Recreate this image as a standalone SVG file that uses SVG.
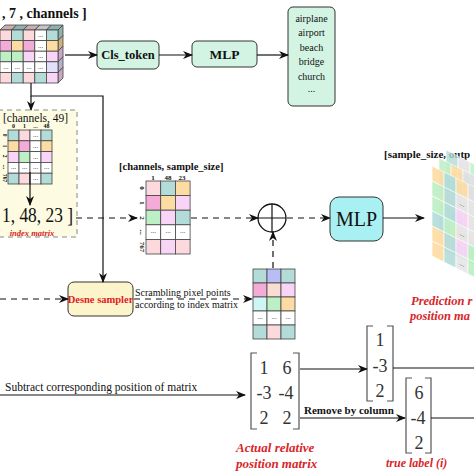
<svg xmlns="http://www.w3.org/2000/svg" width="474" height="474" viewBox="0 0 474 474">
<style>
.t{font-family:"Liberation Serif","Times New Roman",serif;fill:#111}
.b{font-weight:bold}
.r{fill:#d8262a;font-style:italic;font-weight:bold}
.c{stroke:#444;stroke-width:0.8}
.d{font-family:"Liberation Serif",serif;font-size:7px;fill:#333;text-anchor:middle}
.ln{stroke:#111;stroke-width:1.2;fill:none}
.da{stroke-dasharray:6,5}
.br{stroke:#555;stroke-width:1.2;fill:none}
.num{font-family:"Liberation Serif",serif;font-size:18px;fill:#333;text-anchor:middle}
.box{stroke:#333;stroke-width:1}
.pc{stroke:#fff;stroke-width:0.6}
</style>
<defs>
<marker id="ah" markerWidth="10" markerHeight="8" refX="9" refY="4" orient="auto" markerUnits="userSpaceOnUse">
<path d="M0,0 L10,4 L0,8 L3,4 z" fill="#111"/>
</marker>
</defs>

<!-- top-left cube -->
<g id="input-cube">
<text class="t b" x="2" y="18" font-size="14">, 7 , channels ]</text>
<polygon class="c" points="0,30 11.6,30 16.6,25 5,25" fill="#c9aeb1"/>
<polygon class="c" points="11.6,30 23.2,30 28.2,25 16.6,25" fill="#8fb0ad"/>
<polygon class="c" points="23.2,30 34.8,30 39.8,25 28.2,25" fill="#c9aeb1"/>
<polygon class="c" points="34.8,30 46.4,30 51.4,25 39.8,25" fill="#c4c4c4"/>
<polygon class="c" points="46.4,30 58,30 63,25 51.4,25" fill="#8fb0ad"/>
<polygon class="c" points="58,30 63,25 63,35.6 58,40.6" fill="#8fb0ad"/>
<polygon class="c" points="58,40.6 63,35.6 63,46.2 58,51.2" fill="#cdb07f"/>
<polygon class="c" points="58,51.2 63,46.2 63,56.8 58,61.8" fill="#c8a8c6"/>
<polygon class="c" points="58,61.8 63,56.8 63,67.4 58,72.4" fill="#b5b3cc"/>
<polygon class="c" points="58,72.4 63,67.4 63,78 58,83" fill="#c8a8c6"/>
<rect class="c" x="0" y="30" width="11.6" height="10.6" fill="#fbd9dc"/>
<rect class="c" x="11.6" y="30" width="11.6" height="10.6" fill="#b3dcd9"/>
<rect class="c" x="23.2" y="30" width="11.6" height="10.6" fill="#fbd9dc"/>
<rect class="c" x="34.8" y="30" width="11.6" height="10.6" fill="#fff"/>
<rect class="c" x="46.4" y="30" width="11.6" height="10.6" fill="#b3dcd9"/>
<rect class="c" x="0" y="40.6" width="11.6" height="10.6" fill="#f4abd8"/>
<rect class="c" x="11.6" y="40.6" width="11.6" height="10.6" fill="#fddca4"/>
<rect class="c" x="23.2" y="40.6" width="11.6" height="10.6" fill="#f4abd8"/>
<rect class="c" x="34.8" y="40.6" width="11.6" height="10.6" fill="#fff"/>
<rect class="c" x="46.4" y="40.6" width="11.6" height="10.6" fill="#fddca4"/>
<rect class="c" x="0" y="51.2" width="11.6" height="10.6" fill="#bdefc4"/>
<rect class="c" x="11.6" y="51.2" width="11.6" height="10.6" fill="#bdefc4"/>
<rect class="c" x="23.2" y="51.2" width="11.6" height="10.6" fill="#f8d4f6"/>
<rect class="c" x="34.8" y="51.2" width="11.6" height="10.6" fill="#fff"/>
<rect class="c" x="46.4" y="51.2" width="11.6" height="10.6" fill="#f8d4f6"/>
<rect class="c" x="0" y="61.8" width="11.6" height="10.6" fill="#fff"/>
<rect class="c" x="11.6" y="61.8" width="11.6" height="10.6" fill="#fff"/>
<rect class="c" x="23.2" y="61.8" width="11.6" height="10.6" fill="#fff"/>
<rect class="c" x="34.8" y="61.8" width="11.6" height="10.6" fill="#fff"/>
<rect class="c" x="46.4" y="61.8" width="11.6" height="10.6" fill="#e2e0fa"/>
<rect class="c" x="0" y="72.4" width="11.6" height="10.6" fill="#fbd9dc"/>
<rect class="c" x="11.6" y="72.4" width="11.6" height="10.6" fill="#b3dcd9"/>
<rect class="c" x="23.2" y="72.4" width="11.6" height="10.6" fill="#fbd9dc"/>
<rect class="c" x="34.8" y="72.4" width="11.6" height="10.6" fill="#b3dcd9"/>
<rect class="c" x="46.4" y="72.4" width="11.6" height="10.6" fill="#f8d4f6"/>
<text class="d" x="40.6" y="37">...</text>
<text class="d" x="40.6" y="47.6">...</text>
<text class="d" x="40.6" y="58.2">...</text>
<text class="d" x="5.8" y="68.8">...</text>
<text class="d" x="17.4" y="68.8">...</text>
<text class="d" x="29" y="68.8">...</text>
<text class="d" x="40.6" y="68.8">...</text>
</g>

<g id="cls-token">
<rect class="box" x="97" y="41" width="62" height="28" rx="5" fill="#d3f4e3"/>
<text class="t b" x="128" y="59" font-size="12.5" text-anchor="middle">Cls_token</text>
</g>

<g id="mlp-top">
<rect class="box" x="192" y="41" width="65" height="26" rx="5" fill="#d3f4e3"/>
<text class="t b" x="224.5" y="59" font-size="13.5" text-anchor="middle">MLP</text>
</g>

<g id="classes">
<rect class="box" x="288" y="7" width="47" height="99" rx="5" fill="#d3f4e3"/>
<g class="t" font-size="10" text-anchor="middle">
<text x="311.5" y="22">airplane</text>
<text x="311.5" y="36">airport</text>
<text x="311.5" y="51">beach</text>
<text x="311.5" y="65">bridge</text>
<text x="311.5" y="80">church</text>
<text x="311.5" y="92">...</text>
</g>
</g>

<g id="index-matrix">
<rect x="-2" y="110" width="79" height="127" fill="#fdfbe2" stroke="#888" stroke-width="1" stroke-dasharray="5,4"/>
<text class="t" x="3" y="122" font-size="11.5">[channels, 49]</text>
<g class="t b" font-size="6" text-anchor="middle">
<text x="13.5" y="128">0</text><text x="24.5" y="128">1</text><text x="35.5" y="128">...</text><text x="46.5" y="128">48</text>
</g>
<g class="t b" font-size="5.5" text-anchor="middle">
<text transform="translate(3,135) rotate(90)">0</text>
<text transform="translate(3,146) rotate(90)">1</text>
<text transform="translate(3,156) rotate(90)">2</text>
<text transform="translate(3,167) rotate(90)">...</text>
<text transform="translate(3,178) rotate(90)">767</text>
</g>
<rect class="c" x="8" y="130" width="11" height="10.8" fill="#b3dcd9"/>
<rect class="c" x="19" y="130" width="11" height="10.8" fill="#fbd9dc"/>
<rect class="c" x="30" y="130" width="11" height="10.8" fill="#fff"/>
<rect class="c" x="41" y="130" width="11" height="10.8" fill="#b3dcd9"/>
<rect class="c" x="8" y="140.8" width="11" height="10.8" fill="#fddca4"/>
<rect class="c" x="19" y="140.8" width="11" height="10.8" fill="#f4abd8"/>
<rect class="c" x="30" y="140.8" width="11" height="10.8" fill="#fff"/>
<rect class="c" x="41" y="140.8" width="11" height="10.8" fill="#fddca4"/>
<rect class="c" x="8" y="151.6" width="11" height="10.8" fill="#f8d4f6"/>
<rect class="c" x="19" y="151.6" width="11" height="10.8" fill="#bdefc4"/>
<rect class="c" x="30" y="151.6" width="11" height="10.8" fill="#fff"/>
<rect class="c" x="41" y="151.6" width="11" height="10.8" fill="#f8d4f6"/>
<rect class="c" x="8" y="162.4" width="11" height="10.8" fill="#fff"/>
<rect class="c" x="19" y="162.4" width="11" height="10.8" fill="#fff"/>
<rect class="c" x="30" y="162.4" width="11" height="10.8" fill="#fff"/>
<rect class="c" x="41" y="162.4" width="11" height="10.8" fill="#fff"/>
<rect class="c" x="8" y="173.2" width="11" height="10.8" fill="#b3dcd9"/>
<rect class="c" x="19" y="173.2" width="11" height="10.8" fill="#fbd9dc"/>
<rect class="c" x="30" y="173.2" width="11" height="10.8" fill="#fff"/>
<rect class="c" x="41" y="173.2" width="11" height="10.8" fill="#b3dcd9"/>
<text class="d" x="35.5" y="137">...</text>
<text class="d" x="35.5" y="148">...</text>
<text class="d" x="35.5" y="158.6">...</text>
<text class="d" x="13.5" y="169.4">...</text>
<text class="d" x="24.5" y="169.4">...</text>
<text class="d" x="35.5" y="169.4">...</text>
<text class="d" x="46.5" y="169.4">...</text>
<text class="d" x="35.5" y="180.2">...</text>
<text class="t" x="2" y="222" font-size="20" textLength="71" lengthAdjust="spacingAndGlyphs">1, 48, 23 ]</text>
<text class="t r" x="32" y="236" font-size="8.5" text-anchor="middle">index matrix</text>
</g>

<g id="sample-matrix">
<text class="t b" x="119" y="170" font-size="10.5">[channels, sample_size]</text>
<g class="t b" font-size="7" text-anchor="middle">
<text x="153" y="180">1</text><text x="168" y="180">48</text><text x="182" y="180">23</text>
</g>
<g class="t b" font-size="7" text-anchor="middle">
<text transform="translate(140,188) rotate(90)">0</text>
<text transform="translate(140,203) rotate(90)">1</text>
<text transform="translate(140,218) rotate(90)">2</text>
<text transform="translate(140,232) rotate(90)">...</text>
<text transform="translate(140,247) rotate(90)">767</text>
</g>
<rect class="c" x="146" y="181" width="14.7" height="14.6" fill="#fbd9dc"/>
<rect class="c" x="160.7" y="181" width="14.7" height="14.6" fill="#b3dcd9"/>
<rect class="c" x="175.4" y="181" width="14.7" height="14.6" fill="#fddca4"/>
<rect class="c" x="146" y="195.6" width="14.7" height="14.6" fill="#f4abd8"/>
<rect class="c" x="160.7" y="195.6" width="14.7" height="14.6" fill="#fddca4"/>
<rect class="c" x="175.4" y="195.6" width="14.7" height="14.6" fill="#f8d4f6"/>
<rect class="c" x="146" y="210.2" width="14.7" height="14.6" fill="#bdefc4"/>
<rect class="c" x="160.7" y="210.2" width="14.7" height="14.6" fill="#f8d4f6"/>
<rect class="c" x="175.4" y="210.2" width="14.7" height="14.6" fill="#b3dcd9"/>
<rect class="c" x="146" y="224.8" width="14.7" height="14.6" fill="#fff"/>
<rect class="c" x="160.7" y="224.8" width="14.7" height="14.6" fill="#fff"/>
<rect class="c" x="175.4" y="224.8" width="14.7" height="14.6" fill="#fff"/>
<rect class="c" x="146" y="239.4" width="14.7" height="14.6" fill="#fbd9dc"/>
<rect class="c" x="160.7" y="239.4" width="14.7" height="14.6" fill="#f8d4f6"/>
<rect class="c" x="175.4" y="239.4" width="14.7" height="14.6" fill="#fbd9dc"/>
<text class="d" x="153.3" y="233">...</text>
<text class="d" x="168" y="233">...</text>
<text class="d" x="182.7" y="233">...</text>
</g>

<g id="plus">
<circle cx="272" cy="218" r="14" fill="#fff" stroke="#111" stroke-width="1.3"/>
<path d="M258,218 H286 M272,204 V232" stroke="#111" stroke-width="1.2"/>
</g>

<g id="mlp-main">
<rect class="box" x="330" y="197" width="53" height="44" rx="9" fill="#a8f0f2"/>
<text class="t" x="356.5" y="226" font-size="20" text-anchor="middle">MLP</text>
</g>

<g id="prediction">
<text class="t b" x="384" y="158" font-size="11">[sample_size, outp</text>
<g transform="translate(446,150) matrix(1,0.5,0,1,0,0)" opacity="0.8">
<rect class="pc" x="0" y="0" width="12" height="15" fill="#b3dcd9"/><rect class="pc" x="12" y="0" width="12" height="15" fill="#e0e0e0"/><rect class="pc" x="24" y="0" width="12" height="15" fill="#bdefc4"/>
<rect class="pc" x="0" y="15" width="12" height="15" fill="#fddca4"/><rect class="pc" x="12" y="15" width="12" height="15" fill="#b3dcd9"/><rect class="pc" x="24" y="15" width="12" height="15" fill="#f8d4f6"/>
<rect class="pc" x="0" y="30" width="12" height="15" fill="#bdefc4"/><rect class="pc" x="12" y="30" width="12" height="15" fill="#fbd9dc"/><rect class="pc" x="24" y="30" width="12" height="15" fill="#b3dcd9"/>
<rect class="pc" x="0" y="45" width="12" height="15" fill="#b3dcd9"/><rect class="pc" x="12" y="45" width="12" height="15" fill="#e0e0e0"/><rect class="pc" x="24" y="45" width="12" height="15" fill="#fddca4"/>
<rect class="pc" x="0" y="60" width="12" height="15" fill="#f8d4f6"/><rect class="pc" x="12" y="60" width="12" height="15" fill="#b3dcd9"/><rect class="pc" x="24" y="60" width="12" height="15" fill="#bdefc4"/>
<rect class="pc" x="0" y="75" width="12" height="15" fill="#fddca4"/><rect class="pc" x="12" y="75" width="12" height="15" fill="#e0e0e0"/><rect class="pc" x="24" y="75" width="12" height="15" fill="#b3dcd9"/>
</g>
<g transform="translate(439,158) matrix(1,0.5,0,1,0,0)" opacity="0.85">
<rect class="pc" x="0" y="0" width="12" height="15" fill="#bdefc4"/><rect class="pc" x="12" y="0" width="12" height="15" fill="#fddca4"/><rect class="pc" x="24" y="0" width="12" height="15" fill="#e0e0e0"/><rect class="pc" x="36" y="0" width="12" height="15" fill="#bdefc4"/>
<rect class="pc" x="0" y="15" width="12" height="15" fill="#b3dcd9"/><rect class="pc" x="12" y="15" width="12" height="15" fill="#b3dcd9"/><rect class="pc" x="24" y="15" width="12" height="15" fill="#fbd9dc"/><rect class="pc" x="36" y="15" width="12" height="15" fill="#fddca4"/>
<rect class="pc" x="0" y="30" width="12" height="15" fill="#fddca4"/><rect class="pc" x="12" y="30" width="12" height="15" fill="#f8d4f6"/><rect class="pc" x="24" y="30" width="12" height="15" fill="#e0e0e0"/><rect class="pc" x="36" y="30" width="12" height="15" fill="#b3dcd9"/>
<rect class="pc" x="0" y="45" width="12" height="15" fill="#bdefc4"/><rect class="pc" x="12" y="45" width="12" height="15" fill="#b3dcd9"/><rect class="pc" x="24" y="45" width="12" height="15" fill="#fbd9dc"/><rect class="pc" x="36" y="45" width="12" height="15" fill="#bdefc4"/>
<rect class="pc" x="0" y="60" width="12" height="15" fill="#b3dcd9"/><rect class="pc" x="12" y="60" width="12" height="15" fill="#fddca4"/><rect class="pc" x="24" y="60" width="12" height="15" fill="#e0e0e0"/><rect class="pc" x="36" y="60" width="12" height="15" fill="#f8d4f6"/>
<rect class="pc" x="0" y="75" width="12" height="15" fill="#fddca4"/><rect class="pc" x="12" y="75" width="12" height="15" fill="#b3dcd9"/><rect class="pc" x="24" y="75" width="12" height="15" fill="#bdefc4"/><rect class="pc" x="36" y="75" width="12" height="15" fill="#b3dcd9"/>
</g>
<g transform="translate(432,166) matrix(1,0.5,0,1,0,0)" opacity="0.9">
<rect class="pc" x="0" y="0" width="12" height="15" fill="#fddca4"/><rect class="pc" x="12" y="0" width="12" height="15" fill="#b3dcd9"/><rect class="pc" x="24" y="0" width="12" height="15" fill="#fddca4"/><rect class="pc" x="36" y="0" width="12" height="15" fill="#e0e0e0"/>
<rect class="pc" x="0" y="15" width="12" height="15" fill="#bdefc4"/><rect class="pc" x="12" y="15" width="12" height="15" fill="#b3dcd9"/><rect class="pc" x="24" y="15" width="12" height="15" fill="#e6e6e6"/><rect class="pc" x="36" y="15" width="12" height="15" fill="#e6e6e6"/>
<rect class="pc" x="0" y="30" width="12" height="15" fill="#bdefc4"/><rect class="pc" x="12" y="30" width="12" height="15" fill="#b3dcd9"/><rect class="pc" x="24" y="30" width="12" height="15" fill="#f8d4f6"/><rect class="pc" x="36" y="30" width="12" height="15" fill="#e6e6e6"/>
<rect class="pc" x="0" y="45" width="12" height="15" fill="#b3dcd9"/><rect class="pc" x="12" y="45" width="12" height="15" fill="#bdefc4"/><rect class="pc" x="24" y="45" width="12" height="15" fill="#e6e6e6"/><rect class="pc" x="36" y="45" width="12" height="15" fill="#e6e6e6"/>
<rect class="pc" x="0" y="60" width="12" height="15" fill="#fddca4"/><rect class="pc" x="12" y="60" width="12" height="15" fill="#b3dcd9"/><rect class="pc" x="24" y="60" width="12" height="15" fill="#f8d4f6"/><rect class="pc" x="36" y="60" width="12" height="15" fill="#bdefc4"/>
<rect class="pc" x="0" y="75" width="12" height="15" fill="#fddca4"/><rect class="pc" x="12" y="75" width="12" height="15" fill="#b3dcd9"/><rect class="pc" x="24" y="75" width="12" height="15" fill="#e6e6e6"/><rect class="pc" x="36" y="75" width="12" height="15" fill="#bdefc4"/>
<text class="d" x="30" y="25">...</text>
<text class="d" x="30" y="55">...</text>
<text class="d" x="30" y="85">...</text>
</g>
<text class="t r" x="411" y="305" font-size="12.5">Prediction r</text>
<text class="t r" x="410" y="320" font-size="12.5">position ma</text>
</g>

<g id="desne-sampler">
<rect class="box" x="68" y="282" width="65" height="34" rx="6" fill="#fcf5cc"/>
<text class="t b" x="100.5" y="303" font-size="10.5" style="fill:#e0201f" text-anchor="middle">Desne sampler</text>
</g>

<g id="scrambled-matrix">
<rect class="c" x="253" y="269" width="14" height="14" fill="#b3dcd9"/>
<rect class="c" x="267" y="269" width="14" height="14" fill="#b9bdf5"/>
<rect class="c" x="281" y="269" width="14" height="14" fill="#b3dcd9"/>
<rect class="c" x="253" y="283" width="14" height="14" fill="#f4abd8"/>
<rect class="c" x="267" y="283" width="14" height="14" fill="#fbdcd3"/>
<rect class="c" x="281" y="283" width="14" height="14" fill="#f8d4f6"/>
<rect class="c" x="253" y="297" width="14" height="14" fill="#cdf6f4"/>
<rect class="c" x="267" y="297" width="14" height="14" fill="#bdefc4"/>
<rect class="c" x="281" y="297" width="14" height="14" fill="#fddca4"/>
<rect class="c" x="253" y="311" width="14" height="14" fill="#fff"/>
<rect class="c" x="267" y="311" width="14" height="14" fill="#fff"/>
<rect class="c" x="281" y="311" width="14" height="14" fill="#fff"/>
<rect class="c" x="253" y="325" width="14" height="14" fill="#b3dcd9"/>
<rect class="c" x="267" y="325" width="14" height="14" fill="#fbd9dc"/>
<rect class="c" x="281" y="325" width="14" height="14" fill="#b3dcd9"/>
<text class="d" x="260" y="319">...</text>
<text class="d" x="274" y="319">...</text>
<text class="d" x="288" y="319">...</text>
</g>

<g id="actual-matrix">
<path class="br" d="M257,353 H251 V429 H257 M293,353 H299 V429 H293"/>
<text class="num" x="264" y="374">1</text><text class="num" x="287" y="374">6</text>
<text class="num" x="264" y="399">-3</text><text class="num" x="286" y="399">-4</text>
<text class="num" x="264" y="424">2</text><text class="num" x="287" y="424">2</text>
<text class="t r" x="236" y="452" font-size="13">Actual relative</text>
<text class="t r" x="236" y="468" font-size="13">position matrix</text>
</g>

<g id="column-1">
<path class="br" d="M373,326 H367 V401 H373 M387,326 H393 V401 H387"/>
<text class="num" x="380" y="346">1</text>
<text class="num" x="380" y="372">-3</text>
<text class="num" x="380" y="397">2</text>
</g>

<g id="column-2">
<path class="br" d="M412,378 H406 V453 H412 M425,378 H431 V453 H425"/>
<text class="num" x="419" y="399">6</text>
<text class="num" x="418" y="424">-4</text>
<text class="num" x="419" y="449">2</text>
<text class="t r" x="386" y="467" font-size="12">true label (i)</text>
</g>

<g id="connectors">
<line class="ln" x1="65" y1="55" x2="97" y2="55" marker-end="url(#ah)"/>
<line class="ln" x1="159" y1="55" x2="192" y2="55" marker-end="url(#ah)"/>
<line class="ln" x1="257" y1="55" x2="288" y2="55" marker-end="url(#ah)"/>
<polyline class="ln" points="31,83 31,96 103,96 103,282" marker-end="url(#ah)"/>
<line class="ln" x1="31" y1="96" x2="31" y2="110" marker-end="url(#ah)"/>
<line class="ln" x1="30" y1="172" x2="30" y2="205" marker-end="url(#ah)"/>
<line class="ln da" x1="76" y1="218" x2="137" y2="218" marker-end="url(#ah)"/>
<line class="ln da" x1="191" y1="218" x2="258" y2="218" marker-end="url(#ah)"/>
<line class="ln da" x1="273" y1="268" x2="273" y2="232" marker-end="url(#ah)"/>
<line class="ln da" x1="287" y1="218" x2="330" y2="218" marker-end="url(#ah)"/>
<line class="ln" x1="383" y1="218" x2="424" y2="218" marker-end="url(#ah)"/>
<line class="ln da" x1="0" y1="299" x2="68" y2="299" marker-end="url(#ah)"/>
<line class="ln da" x1="134" y1="299" x2="252" y2="299" marker-end="url(#ah)"/>
<text class="t" x="135" y="296" font-size="10">Scrambling pixel points</text>
<text class="t" x="135" y="308" font-size="10">according to index matrix</text>
<line class="ln" x1="0" y1="395" x2="245" y2="395" marker-end="url(#ah)"/>
<text class="t" x="5" y="391" font-size="11.5">Subtract corresponding position of matrix</text>
<line class="ln" x1="300" y1="369" x2="367" y2="369" marker-end="url(#ah)"/>
<line class="ln" x1="393" y1="368" x2="474" y2="368"/>
<line class="ln" x1="300" y1="418" x2="405" y2="418" marker-end="url(#ah)"/>
<text class="t b" x="304" y="414" font-size="11">Remove by column</text>
<line class="ln" x1="431" y1="418" x2="474" y2="418"/>
</g>
</svg>
